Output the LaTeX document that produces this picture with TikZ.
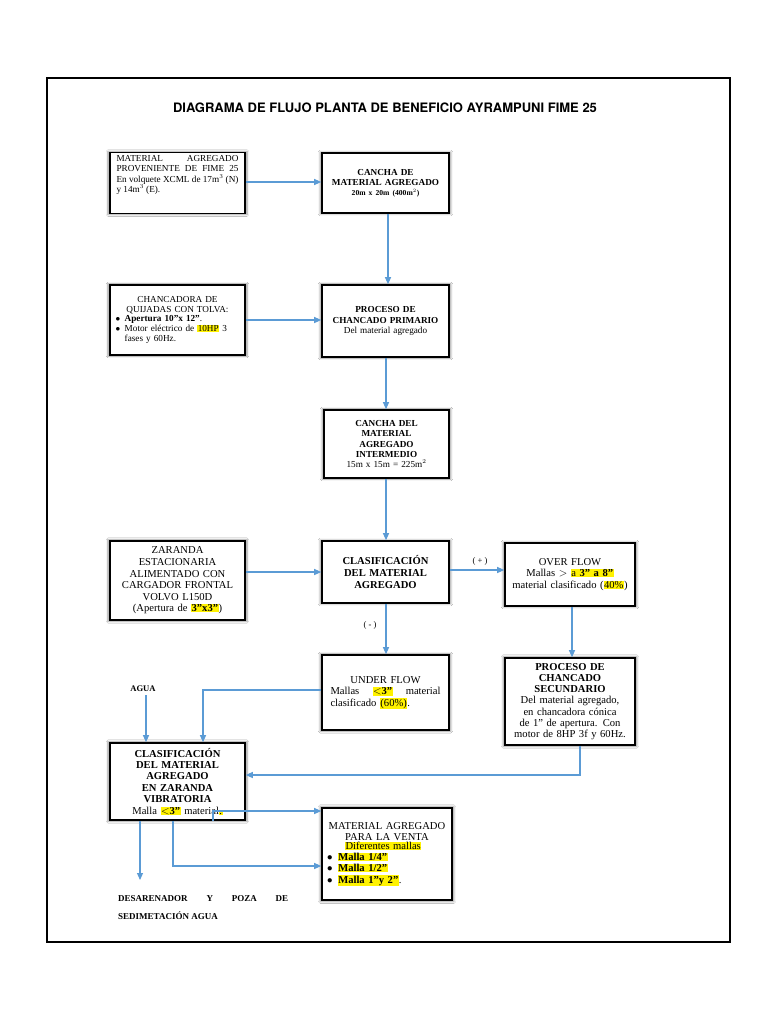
\documentclass[tikz,border=0pt]{standalone}
\usepackage{fontspec}
\setmainfont{Liberation Serif}
\newfontfamily\tsans{TeX Gyre Heros}
\usetikzlibrary{shadows.blur,arrows.meta}
\newcommand{\yh}[1]{{\setlength{\fboxsep}{0.5pt}\colorbox{yellow}{#1}}}
\begin{document}
\hyphenpenalty=10000 \exhyphenpenalty=10000
\begin{tikzpicture}[x=1pt,y=-1pt,
 box/.style={draw,line width=1.6pt,fill=white,blur shadow={shadow blur steps=6,shadow xshift=0pt,shadow yshift=0pt,shadow scale=1.03},inner sep=3pt,font=\fontsize{9.2}{10.2}\selectfont},
 big/.style={font=\fontsize{10.6}{11.6}\selectfont},
 arr/.style={color={rgb,255:red,91;green,155;blue,213},line width=1.1pt,-{Triangle[length=7pt,width=6pt]}},
 lab/.style={font=\fontsize{8.6}{9.6}\selectfont}]
\useasboundingbox (0,0) rectangle (768,1024);
\fill[white] (0,0) rectangle (768,1024);
\draw[line width=2.5pt] (47,78) rectangle (730,942);
\node[font=\tsans\bfseries\fontsize{13}{15}\selectfont] (title) at (385,108) {DIAGRAMA DE FLUJO PLANTA DE BENEFICIO AYRAMPUNI FIME 25};
% boxes
\node[box,minimum width=135pt,minimum height=60pt,text width=122pt,align=justify] (b1) at (177.5,183) {MATERIAL\hfill AGREGADO PROVENIENTE DE FIME 25 En volquete XCML de 17m$^3$ (N) y 14m$^3$ (E).\\[8pt]};
\node[box,minimum width=127pt,minimum height=60pt,text width=114pt,align=center] (b2) at (385.5,183) {\textbf{CANCHA DE MATERIAL AGREGADO}\\{\fontsize{7.6}{8.6}\selectfont\bfseries 20m x 20m (400m$^2$)}\\[6pt]};
\node[box,minimum width=135pt,minimum height=70pt,text width=124pt,align=center] (b3) at (177.5,320) {CHANCADORA DE QUIJADAS CON TOLVA:\\
\parbox{124pt}{\raggedright$\bullet$\enspace \textbf{Apertura 10''x 12''}.\\
$\bullet$\enspace Motor eléctrico de \yh{10HP} 3\\\phantom{$\bullet$\enspace}fases y 60Hz.}};
\node[box,minimum width=127pt,minimum height=72pt,text width=116pt,align=center] (b4) at (385.5,321) {\textbf{PROCESO DE CHANCADO PRIMARIO}\\Del material agregado\\[18pt]};
\node[box,minimum width=125pt,minimum height=68pt,text width=100pt,align=center] (b5) at (386.5,444) {\textbf{CANCHA DEL MATERIAL AGREGADO INTERMEDIO}\\15m x 15m = 225m$^2$};
\node[box,big,minimum width=135pt,minimum height=79pt,text width=118pt,align=center] (b6) at (177.5,580.5) {ZARANDA ESTACIONARIA ALIMENTADO CON CARGADOR FRONTAL VOLVO L150D\\(Apertura de \yh{\textbf{3''x3''}})};
\node[box,big,minimum width=127pt,minimum height=62pt,text width=100pt,align=center] (b7) at (385.5,572) {\textbf{CLASIFICACIÓN DEL MATERIAL AGREGADO}\\[6pt]};
\node[box,big,minimum width=130pt,minimum height=63pt,text width=118pt,align=center] (b8) at (570,574.5) {OVER FLOW\\Mallas $>$ \yh{a \textbf{3'' a\ 8''}} material clasificado (\yh{40\%})\\[8pt]};
\node[box,big,minimum width=127pt,minimum height=75pt,text width=110pt,align=center] (b9) at (385.5,692.5) {UNDER FLOW\\Mallas\hfill\yh{\textbf{$<$3''}}\hfill material\\clasificado \yh{(60\%)}.\hfill\null\\[6pt]};
\node[box,big,minimum width=130pt,minimum height=87pt,text width=122pt,align=center,inner sep=1pt,font=\fontsize{10.6}{11.2}\selectfont] (b10) at (570,701.5) {\textbf{PROCESO DE CHANCADO SECUNDARIO}\\Del material agregado, en chancadora cónica de 1'' de apertura. Con motor de 8HP 3f y 60Hz.};
\node[box,big,minimum width=135pt,minimum height=77pt,text width=110pt,align=center,inner sep=1pt,font=\fontsize{10.6}{11.4}\selectfont] (b11) at (177.5,781.5) {\textbf{CLASIFICACIÓN DEL MATERIAL AGREGADO EN ZARANDA VIBRATORIA}\\Malla \yh{\textbf{$<$3''}} material\yh{.}};
\node[box,big,minimum width=130pt,minimum height=92pt,text width=120pt,align=center,inner sep=1pt,font=\fontsize{10.6}{11.2}\selectfont] (b12) at (387,854) {MATERIAL AGREGADO PARA LA VENTA\\
\parbox{124pt}{\raggedright\hspace*{18pt}\yh{Diferentes mallas}\\
$\bullet$\enspace\yh{\textbf{Malla 1/4''}}\\$\bullet$\enspace\yh{\textbf{Malla 1/2''}}\\$\bullet$\enspace\yh{\textbf{Malla 1''y 2''}}.}};
% labels
\node[lab,font=\bfseries\fontsize{8.6}{9.6}\selectfont] (agua) at (143,689) {AGUA};
\node[lab] (plus) at (480,561) {( + )};
\node[lab] (minus) at (370,625) {( - )};
\node[anchor=north west,text width=170pt,align=justify,inner sep=0pt,font=\bfseries\fontsize{9}{18}\selectfont] (des) at (118,895) {DESARENADOR\hfill Y\hfill POZA\hfill DE\\SEDIMETACIÓN AGUA};
% coordinates
\coordinate (c1) at (203,690);
\coordinate (c2) at (580,775);
\coordinate (c3) at (213,811);
\coordinate (c4) at (173,866);
\coordinate (c5) at (140,880);
% connectors
\draw[arr] (b1.east |- 0,182) -- (b2.west |- 0,182);
\draw[arr] (b2.south -| 388,0) -- (b4.north -| 388,0);
\draw[arr] (b3.east |- 0,320) -- (b4.west |- 0,320);
\draw[arr] (b4.south -| 386,0) -- (b5.north -| 386,0);
\draw[arr] (b5.south -| 386,0) -- (b7.north -| 386,0);
\draw[arr] (b6.east |- 0,572) -- (b7.west |- 0,572);
\draw[arr] (b7.east |- 0,570) -- (b8.west |- 0,570);
\draw[arr] (b7.south -| 386,0) -- (b9.north -| 386,0);
\draw[arr] (b8.south -| 572,0) -- (b10.north -| 572,0);
\draw[arr] (b9.west |- c1) -- (c1) -- (c1 |- b11.north);
\draw[arr] (agua.south -| 146,0) -- (b11.north -| 146,0);
\draw[arr] (b10.south -| c2) -- (c2) -- (b11.east |- c2);
\draw[arr] (b11.south -| c3) -- (c3) -- (b12.west |- c3);
\draw[arr] (b11.south -| c4) -- (c4) -- (b12.west |- c4);
\draw[arr] (b11.south -| c5) -- (c5);
\end{tikzpicture}
\end{document}
